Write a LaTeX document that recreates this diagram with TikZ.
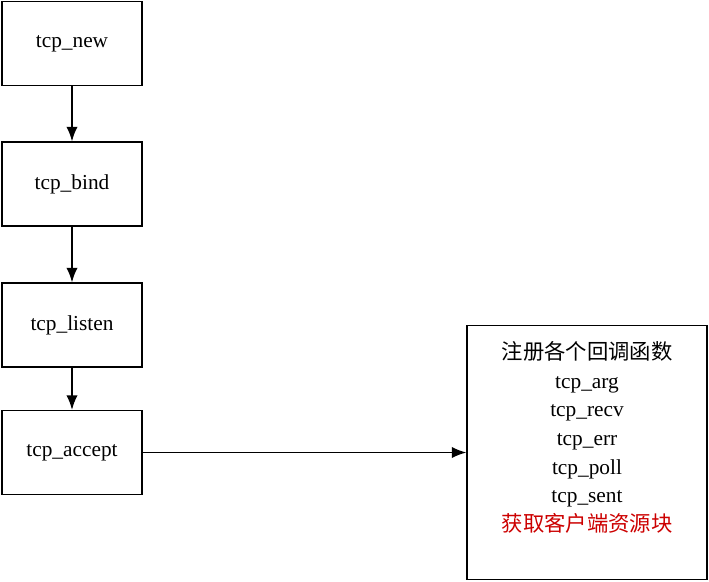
\documentclass[tikz,border=0pt]{standalone}
\usepackage{fontspec}
\setmainfont{Liberation Serif}
\newfontfamily\cjk{Noto Sans CJK SC}
\usetikzlibrary{positioning,arrows.meta}

\begin{document}
\begin{tikzpicture}[x=0.75pt,y=-0.75pt,
										box/.style={draw,thick,minimum width=105pt,minimum height=63pt,font=\fontsize{16}{18}\selectfont},
										arr/.style={line width=1.3pt,-{Latex[length=11pt,width=8.5pt]}}
										]
	\useasboundingbox (0,0) rectangle (709,581);
	\node[box] (new) at (72,43.5) {tcp\_new};
	\node[box] (bind) at (72,184) {tcp\_bind};
	\node[box] (listen) at (72,325) {tcp\_listen};
	\node[box] (accept) at (72,452.5) {tcp\_accept};
	\node[draw,thick,minimum width=180pt,minimum height=190pt] (cb) at (587,452.5) {};
	\node[align=center,font=\fontsize{16}{21.5}\selectfont] (cbtext) at (587,437.5)
	{{\cjk 注册各个回调函数}\\tcp\_arg\\tcp\_recv\\tcp\_err\\tcp\_poll\\tcp\_sent\\{\cjk\color{red!80!black}获取客户端资源块}};
	\draw[arr] (new) -- (bind);
	\draw[arr] (bind) -- (listen);
	\draw[arr] (listen) -- (accept);
	\draw[arr] (accept) -- (cb);
\end{tikzpicture}
\end{document}
